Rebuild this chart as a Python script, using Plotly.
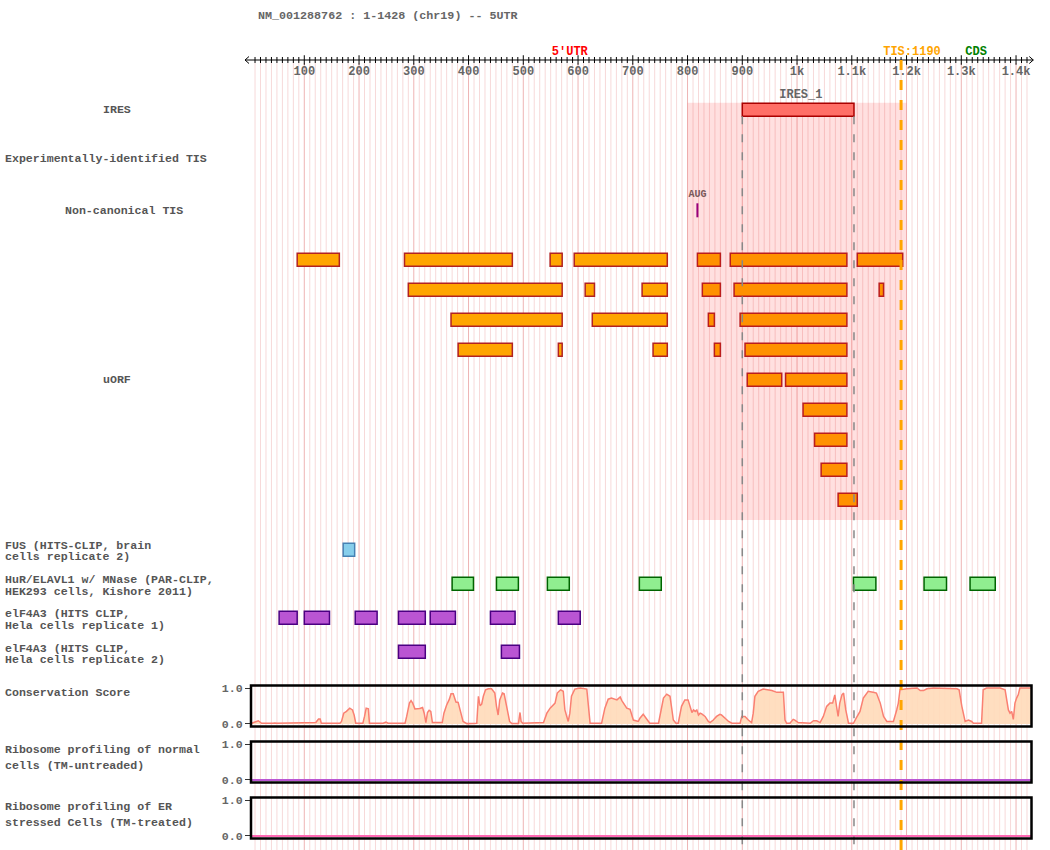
import plotly.graph_objects as go

W, H = 1050, 850

# ---------------- data ----------------
title_text = "NM_001288762 : 1-1428 (chr19) -- 5UTR"
seq_start, seq_end = 1, 1428
tis_pos = 1190
tick_vals = [100, 200, 300, 400, 500, 600, 700, 800, 900, 1000, 1100, 1200, 1300, 1400]
tick_labels = ["100", "200", "300", "400", "500", "600", "700", "800", "900",
               "1k", "1.1k", "1.2k", "1.3k", "1.4k"]

ires_names = ["IRES_1"]
ires_start = [900]
ires_end = [1104]
ires_region = [800, 1200]

noncanon_codon = ["AUG"]
noncanon_pos = [818]

uorf_row = [1, 1, 1, 1, 1, 1, 1,
            2, 2, 2, 2, 2, 2,
            3, 3, 3, 3,
            4, 4, 4, 4, 4,
            5, 5, 6, 7, 8, 9]
uorf_start = [87, 283, 549, 593, 818, 878, 1110,
              290, 613, 717, 827, 885, 1150,
              368, 626, 838, 896,
              381, 564, 737, 849, 905,
              909, 979, 1011, 1032, 1044, 1075]
uorf_end = [164, 480, 571, 763, 860, 1091, 1193,
            571, 630, 763, 860, 1091, 1158,
            571, 763, 849, 1091,
            480, 571, 763, 860, 1091,
            972, 1091, 1091, 1091, 1091, 1110]

fus_start = [171]
fus_end = [192]
hur_start = [370, 451, 544, 712, 1103, 1232, 1316]
hur_end = [409, 491, 584, 752, 1144, 1273, 1362]
eif1_start = [54, 100, 193, 272, 330, 440, 564]
eif1_end = [87, 146, 233, 321, 376, 485, 604]
eif2_start = [272, 460]
eif2_end = [321, 493]

cons_x = [1, 4, 16, 22, 43, 46, 50, 89, 121, 126, 129, 131, 165, 168, 172, 177, 183, 188, 191, 194,
          207, 210, 213, 217, 219, 244, 249, 253, 284, 287, 292, 295, 298, 302, 311, 316, 319, 322,
          325, 328, 331, 334, 352, 355, 360, 365, 368, 372, 377, 381, 384, 390, 397, 415, 418, 421,
          424, 427, 431, 436, 442, 448, 451, 454, 457, 462, 465, 468, 471, 475, 479, 491, 494, 496,
          499, 531, 537, 543, 549, 558, 562, 568, 573, 576, 582, 585, 588, 594, 604, 616, 622, 643,
          649, 655, 661, 671, 677, 680, 689, 695, 701, 710, 713, 719, 725, 731, 747, 751, 756, 762,
          768, 771, 774, 779, 783, 789, 795, 801, 805, 808, 811, 814, 817, 820, 823, 826, 832, 835,
          838, 841, 847, 853, 859, 862, 868, 875, 881, 896, 899, 905, 911, 917, 920, 923, 929, 938,
          954, 963, 975, 978, 981, 987, 993, 996, 1002, 1024, 1030, 1036, 1042, 1048, 1054, 1060,
          1065, 1069, 1072, 1075, 1078, 1082, 1085, 1089, 1094, 1103, 1108, 1115, 1121, 1130, 1139,
          1145, 1152, 1158, 1164, 1176, 1182, 1185, 1188, 1200, 1219, 1225, 1231, 1237, 1249, 1292,
          1296, 1301, 1307, 1313, 1319, 1322, 1337, 1340, 1346, 1371, 1380, 1386, 1389, 1392, 1395,
          1398, 1401, 1404, 1407, 1428]
cons_y = [0.02, 0.02, 0.09, 0.02, 0.02, 0.03, 0.02, 0.03, 0.04, 0.14, 0.14, 0.02, 0.02, 0.07, 0.30,
          0.35, 0.44, 0.39, 0.25, 0.02, 0.02, 0.21, 0.44, 0.42, 0.02, 0.02, 0.05, 0.02, 0.02, 0.21,
          0.58, 0.65, 0.58, 0.42, 0.43, 0.46, 0.30, 0.04, 0.32, 0.38, 0.35, 0.04, 0.04, 0.30, 0.53,
          0.69, 0.84, 0.84, 0.61, 0.60, 0.44, 0.07, 0.01, 0.02, 0.77, 0.51, 0.55, 0.77, 0.95, 0.98,
          0.98, 0.86, 0.49, 0.25, 0.67, 0.86, 0.84, 0.58, 0.30, 0.07, 0.01, 0.01, 0.32, 0.07, 0.02,
          0.02, 0.04, 0.30, 0.44, 0.58, 0.86, 0.95, 0.91, 0.39, 0.07, 0.30, 0.77, 0.97, 1.00, 0.97,
          0.02, 0.02, 0.44, 0.69, 0.72, 0.67, 0.75, 0.65, 0.44, 0.41, 0.11, 0.07, 0.16, 0.27, 0.16,
          0.02, 0.02, 0.30, 0.72, 0.83, 0.77, 0.44, 0.11, 0.02, 0.02, 0.49, 0.67, 0.67, 0.50, 0.32,
          0.39, 0.35, 0.39, 0.25, 0.30, 0.28, 0.21, 0.13, 0.07, 0.04, 0.11, 0.21, 0.27, 0.25, 0.16,
          0.07, 0.02, 0.02, 0.21, 0.21, 0.11, 0.04, 0.30, 0.77, 0.91, 0.97, 0.93, 0.88, 0.88, 0.11,
          0.02, 0.02, 0.13, 0.11, 0.04, 0.02, 0.09, 0.09, 0.04, 0.21, 0.49, 0.58, 0.58, 0.81, 0.50,
          0.21, 0.58, 0.81, 0.86, 0.39, 0.02, 0.02, 0.16, 0.35, 0.72, 0.91, 0.88, 0.86, 0.58, 0.21,
          0.07, 0.07, 0.39, 0.58, 0.95, 0.98, 1.00, 0.93, 0.93, 0.98, 1.00, 0.98, 0.95, 0.49, 0.07,
          0.11, 0.07, 0.02, 0.02, 0.95, 1.00, 1.00, 0.95, 0.39, 0.30, 0.35, 0.13, 0.58, 0.72, 0.81,
          1.00, 1.00]

ribo_normal_x = [1, 1428]
ribo_normal_y = [0.0, 0.0]
ribo_er_x = [1, 1428]
ribo_er_y = [0.0, 0.0]

# ---------------- layout geometry (pixels) ----------------
PX0, SCALE = 249.55, 0.5475          # pixel of position 0, pixels per nt
XR = [-8.5, 1436.0]
xdom = [(PX0 + SCALE * XR[0]) / W, (PX0 + SCALE * XR[1]) / W]
NT_PER_PX = 1 / SCALE

RULER_Y = 60
GRID_TOP = 63
IRES_Y = (103.3, 116.3)
SHADE_Y = (102.7, 520)
AUG_Y = (203.3, 217.3)
UORF_TOP0, UORF_STEP, BAR_H = 253.3, 30, 13
FUS_TOP, HUR_TOP, EIF1_TOP, EIF2_TOP = 543.3, 577.3, 611.3, 645.3
BOXES = [(685.5, 726.5), (741.5, 782.5), (797.5, 838.5)]
BOX_X = (251 / W, 1031.5 / W)

MONO = "Liberation Mono"
LABEL_C = "#555555"
TICK_C = "#666666"
ANN_PAD = 2   # plotly annotation inner padding in px


def pap_y(py):
    return 1 - py / H


fig = go.Figure()

# vertical grid lines (every 10 nt, stronger every 100 nt)
gxm, gym, gxM, gyM = [], [], [], []
for v in range(10, seq_end, 10):
    if v % 100 == 0:
        gxM += [v, v, None]; gyM += [GRID_TOP, H, None]
    else:
        gxm += [v, v, None]; gym += [GRID_TOP, H, None]
fig.add_trace(go.Scatter(x=gxm, y=gym, mode="lines", line=dict(color="#F7D9D9", width=1), hoverinfo="skip"))
fig.add_trace(go.Scatter(x=gxM, y=gyM, mode="lines", line=dict(color="#EEB4B4", width=1), hoverinfo="skip"))

# ruler line with arrows
left_tip, right_tip = XR[0] + 0.2, 1431.5
aw = 4 * NT_PER_PX
fig.add_trace(go.Scatter(
    x=[left_tip, right_tip, None, left_tip + aw, left_tip, left_tip + aw, None,
       right_tip - aw, right_tip, right_tip - aw],
    y=[RULER_Y, RULER_Y, None, RULER_Y - 3.5, RULER_Y, RULER_Y + 3.5, None,
       RULER_Y - 3.5, RULER_Y, RULER_Y + 3.5],
    mode="lines", line=dict(color="black", width=1), hoverinfo="skip", cliponaxis=False))
minor_t = [v for v in range(0, seq_end, 10) if v % 100 != 0]
major_t = [v for v in range(100, seq_end, 100)]
fig.add_trace(go.Scatter(x=minor_t, y=[RULER_Y] * len(minor_t), mode="markers",
                         marker=dict(symbol="line-ns", size=4.3, line=dict(color="black", width=1)),
                         hoverinfo="skip"))
fig.add_trace(go.Scatter(x=major_t, y=[RULER_Y] * len(major_t), mode="markers",
                         marker=dict(symbol="line-ns", size=6.8, line=dict(color="black", width=1)),
                         hoverinfo="skip"))
fig.add_trace(go.Scatter(x=tick_vals, y=[72] * len(tick_vals), mode="text",
                         text=["<b>%s</b>" % t for t in tick_labels],
                         textfont=dict(family=MONO, size=12, color=TICK_C), hoverinfo="skip",
                         cliponaxis=False))

# region labels above ruler
fig.add_trace(go.Scatter(x=[585, 1210, 1327], y=[51.5, 51.5, 51.5], mode="text",
                         text=["<b>5'UTR</b>", "<b>TIS:%d</b>" % tis_pos, "<b>CDS</b>"],
                         textfont=dict(family=MONO, size=12, color=["#FF0000", "#FFA500", "#008000"]),
                         hoverinfo="skip", cliponaxis=False))

# IRES name and non-canonical codon labels
fig.add_trace(go.Scatter(x=[(s + e) / 2 + 5 for s, e in zip(ires_start, ires_end)], y=[95] * len(ires_start),
                         mode="text", text=["<b>%s</b>" % n for n in ires_names],
                         textfont=dict(family=MONO, size=12, color=TICK_C), hoverinfo="skip"))
fig.add_trace(go.Scatter(x=noncanon_pos, y=[194] * len(noncanon_pos), mode="text",
                         text=["<b>%s</b>" % c for c in noncanon_codon],
                         textfont=dict(family=MONO, size=10, color="#666666"), hoverinfo="skip"))

# conservation + ribosome profiling
fig.add_trace(go.Scatter(x=cons_x, y=cons_y, xaxis="x", yaxis="y2", mode="lines",
                         line=dict(color="#FA8072", width=1.5), fill="tozeroy",
                         fillcolor="rgba(255,218,185,0.9)", hoverinfo="skip"))
fig.add_trace(go.Scatter(x=ribo_normal_x, y=ribo_normal_y, xaxis="x", yaxis="y3", mode="lines",
                         line=dict(color="#BA55D3", width=2), hoverinfo="skip"))
fig.add_trace(go.Scatter(x=ribo_er_x, y=ribo_er_y, xaxis="x", yaxis="y4", mode="lines",
                         line=dict(color="#FF69B4", width=2), hoverinfo="skip"))

shapes = []


def bar(x0, x1, top, fill, border, lw=1.5):
    shapes.append(dict(type="rect", xref="x", yref="y", x0=x0, x1=x1, y0=top, y1=top + BAR_H,
                       fillcolor=fill, line=dict(color=border, width=lw)))


for s, e in zip(ires_start, ires_end):
    bar(s, e, IRES_Y[0], "#FF7F76", "#A00000")
for p in noncanon_pos:
    shapes.append(dict(type="line", xref="x", yref="y", x0=p, x1=p, y0=AUG_Y[0], y1=AUG_Y[1],
                       line=dict(color="#8B008B", width=2)))
for r, s, e in zip(uorf_row, uorf_start, uorf_end):
    bar(s, e, UORF_TOP0 + (r - 1) * UORF_STEP, "#FFA500", "#B22222")
for s, e in zip(fus_start, fus_end):
    bar(s, e, FUS_TOP, "#87CEEB", "#4682B4")
for s, e in zip(hur_start, hur_end):
    bar(s, e, HUR_TOP, "#90EE90", "#006400")
for s, e in zip(eif1_start, eif1_end):
    bar(s, e, EIF1_TOP, "#BA55D3", "#4B0082")
for s, e in zip(eif2_start, eif2_end):
    bar(s, e, EIF2_TOP, "#BA55D3", "#4B0082")

# IRES highlight region
shapes.append(dict(type="rect", xref="x", yref="y", x0=ires_region[0], x1=ires_region[1],
                   y0=SHADE_Y[0], y1=SHADE_Y[1], fillcolor="rgba(255,0,0,0.12)", line=dict(width=0)))
# IRES boundaries
for p in [ires_start[0], ires_end[0]]:
    shapes.append(dict(type="line", xref="x", yref="y", x0=p, x1=p, y0=IRES_Y[1], y1=H,
                       line=dict(color="#888888", width=1.5, dash="8px,10px")))
# TIS line
shapes.append(dict(type="line", xref="x", yref="y", x0=tis_pos, x1=tis_pos, y0=RULER_Y, y1=H,
                   line=dict(color="#FFA500", width=3, dash="10px,10px")))
# track boxes
for i in range(3):
    shapes.append(dict(type="rect", xref="paper", x0=BOX_X[0], x1=BOX_X[1],
                       yref="y%d domain" % (i + 2), y0=0, y1=1,
                       line=dict(color="black", width=2.5), fillcolor="rgba(0,0,0,0)"))

annotations = []


def lab(px, py, text, size=11.6, color=LABEL_C):
    annotations.append(dict(xref="paper", yref="paper", x=(px - ANN_PAD) / W, y=pap_y(py),
                            text="<b>%s</b>" % text,
                            showarrow=False, xanchor="left", yanchor="middle",
                            font=dict(family=MONO, size=size, color=color)))


lab(258, 16, title_text, size=11.7, color=TICK_C)
lab(103, 110, "IRES")
lab(5, 159, "Experimentally-identified TIS")
lab(65, 210, "Non-canonical TIS")
lab(103, 380, "uORF")
lab(5, 545.5, "FUS (HITS-CLIP, brain")
lab(5, 556.5, "cells replicate 2)")
lab(5, 579.5, "HuR/ELAVL1 w/ MNase (PAR-CLIP,")
lab(5, 591, "HEK293 cells, Kishore 2011)")
lab(5, 613.5, "elF4A3 (HITS CLIP,")
lab(5, 625, "Hela cells replicate 1)")
lab(5, 648, "elF4A3 (HITS CLIP,")
lab(5, 659.5, "Hela cells replicate 2)")
lab(5, 692, "Conservation Score")
lab(5, 749.5, "Ribosome profiling of normal")
lab(5, 765, "cells (TM-untreaded)")
lab(5, 806, "Ribosome profiling of ER")
lab(5, 822, "stressed Cells (TM-treated)")


def track_axis(box):
    top, bot = box
    return dict(domain=[pap_y(bot), pap_y(top)], range=[-0.07, 1.07], anchor="free",
                position=BOX_X[0], tickvals=[0, 1], ticktext=["<b>0.0</b>", "<b>1.0</b>"],
                ticks="outside", ticklen=6, tickcolor="#333333", tickwidth=1,
                showgrid=False, zeroline=False, showline=False, automargin=False,
                tickfont=dict(family=MONO, size=11.6, color=TICK_C), fixedrange=True)


fig.update_layout(
    width=W, height=H, margin=dict(l=0, r=0, t=0, b=0, pad=0, autoexpand=False),
    paper_bgcolor="white", plot_bgcolor="rgba(0,0,0,0)", showlegend=False, hovermode=False,
    xaxis=dict(domain=xdom, range=XR, visible=False, fixedrange=True, automargin=False),
    yaxis=dict(domain=[0, 1], range=[H, 0], visible=False, fixedrange=True, automargin=False),
    yaxis2=track_axis(BOXES[0]),
    yaxis3=track_axis(BOXES[1]),
    yaxis4=track_axis(BOXES[2]),
    shapes=shapes, annotations=annotations,
)

post = (
    "document.documentElement.style.margin='0';"
    "document.documentElement.style.padding='0';"
    "document.documentElement.style.overflow='hidden';"
    "document.body.style.margin='0';"
    "document.body.style.padding='0';"
    "document.body.style.overflow='hidden';"
    "document.body.style.height='850px';"
    "var gd=document.getElementById('{plot_id}');"
    "gd.style.display='block';"
    "gd.parentElement.style.height='850px';"
    "gd.parentElement.style.overflow='hidden';"
    "var sc=gd.querySelector('.svg-container'); if(sc){sc.style.display='block';}"
)
fig.write_html("out.html", config={"displayModeBar": False}, post_script=post)
